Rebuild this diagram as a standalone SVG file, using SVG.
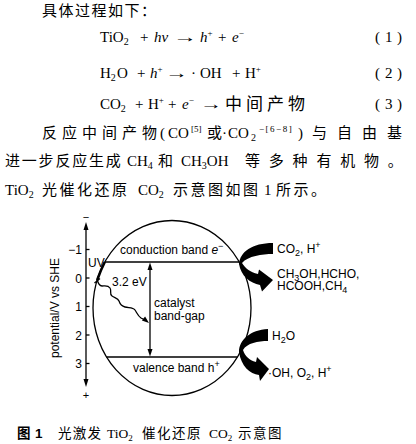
<svg xmlns="http://www.w3.org/2000/svg" width="416" height="444" viewBox="0 0 416 444">
<defs>
<style>
.cn{font-family:"Liberation Serif","Noto Sans CJK SC",serif;font-size:15px;fill:#000}
.eq{font-family:"Liberation Serif","Noto Sans CJK SC",serif;font-size:15px;fill:#000}
.lab{font-family:"Liberation Sans",Arial,sans-serif;font-size:12px;fill:#000}
.ln{stroke:#000;stroke-width:1.3;fill:none}
.fill{fill:#000;stroke:none}
.cap{font-family:"Liberation Serif","Noto Sans CJK SC",serif;font-size:13.5px;fill:#000}
</style>
</defs>
<rect width="416" height="444" fill="#fff"/>

<!-- body text -->
<g id="text-body">
<text class="cn" x="42" y="16" letter-spacing="1.5">具体过程如下：</text>

<text class="eq" y="42"><tspan x="100">TiO</tspan><tspan font-size="10" dy="3">2</tspan><tspan x="140" dy="-3">+</tspan><tspan x="154" font-style="italic">hν</tspan><tspan x="200" font-style="italic">h</tspan><tspan font-size="9" dy="-6">+</tspan><tspan x="218" dy="6">+</tspan><tspan x="232" font-style="italic">e</tspan><tspan font-size="9" dy="-6">−</tspan></text>
<text class="eq" x="173" y="42" textLength="24" lengthAdjust="spacingAndGlyphs">→</text>
<text class="eq" y="42"><tspan x="375">(</tspan><tspan x="385">1</tspan><tspan x="397">)</tspan></text>

<text class="eq" y="78"><tspan x="100">H</tspan><tspan font-size="10" dy="3">2</tspan><tspan x="117" dy="-3">O</tspan><tspan x="137">+</tspan><tspan x="150" font-style="italic">h</tspan><tspan font-size="9" dy="-6">+</tspan><tspan x="191" dy="6">·</tspan><tspan x="200">OH</tspan><tspan x="232">+</tspan><tspan x="245">H</tspan><tspan font-size="9" dy="-6">+</tspan></text>
<text class="eq" x="165" y="78" textLength="23" lengthAdjust="spacingAndGlyphs">→</text>
<text class="eq" y="78"><tspan x="375">(</tspan><tspan x="385">2</tspan><tspan x="397">)</tspan></text>

<text class="eq" y="109"><tspan x="100">CO</tspan><tspan font-size="10" dy="3">2</tspan><tspan x="135" dy="-3">+</tspan><tspan x="148">H</tspan><tspan font-size="9" dy="-6">+</tspan><tspan x="168" dy="6">+</tspan><tspan x="182" font-style="italic">e</tspan><tspan font-size="9" dy="-6">−</tspan></text>
<text class="eq" x="200" y="109" textLength="22" lengthAdjust="spacingAndGlyphs">→</text>
<text class="cn" x="225" y="110" style="font-size:17px" letter-spacing="4">中间产物</text>
<text class="eq" y="109"><tspan x="375">(</tspan><tspan x="385">3</tspan><tspan x="397">)</tspan></text>

<text class="cn" x="42" y="138" letter-spacing="5">反应中间产物</text>
<text class="cn" y="138"><tspan x="160">(</tspan><tspan x="168">CO</tspan></text>
<text class="cn" x="191" y="132" style="font-size:9px">[5]</text>
<text class="cn" x="207" y="138">或</text>
<text class="cn" y="138"><tspan x="222">·</tspan><tspan x="228">CO</tspan><tspan x="251" font-size="10" dy="3">2</tspan></text>
<text class="cn" x="259" y="132" style="font-size:9px" letter-spacing="1.5">−[6−8]</text>
<text class="cn" x="298" y="138">)</text>
<text class="cn" x="312" y="138" letter-spacing="10">与自由基</text>

<text class="cn" x="5" y="166" letter-spacing="1.8">进一步反应生成</text>
<text class="cn" y="166"><tspan x="127">CH</tspan><tspan font-size="10" dy="3">4</tspan></text>
<text class="cn" x="158" y="166">和</text>
<text class="cn" y="166"><tspan x="181">CH</tspan><tspan font-size="10" dy="3">3</tspan><tspan dy="-3">OH</tspan></text>
<text class="cn" x="245" y="166" letter-spacing="8.8">等多种有机物。</text>

<text class="cn" y="195"><tspan x="5">TiO</tspan><tspan font-size="10" dy="3">2</tspan></text>
<text class="cn" x="42" y="195" letter-spacing="2.5">光催化还原</text>
<text class="cn" y="195"><tspan x="138">CO</tspan><tspan font-size="10" dy="3">2</tspan></text>
<text class="cn" x="173" y="195" letter-spacing="2.5">示意图如图</text>
<text class="cn" x="264" y="195">1</text>
<text class="cn" x="276" y="195" letter-spacing="2.5">所示。</text>
</g>

<!-- axis -->
<g id="axis">
<line class="ln" x1="86" y1="228" x2="86" y2="381"/>
<polygon class="fill" points="86,222 83.5,230 88.5,230"/>
<polygon class="fill" points="86,387 83.5,379 88.5,379"/>
<g class="ln">
<line x1="86" y1="249.5" x2="89.5" y2="249.5"/>
<line x1="86" y1="278" x2="89.5" y2="278"/>
<line x1="86" y1="306.5" x2="89.5" y2="306.5"/>
<line x1="86" y1="335" x2="89.5" y2="335"/>
<line x1="86" y1="363.5" x2="89.5" y2="363.5"/>
</g>
<g class="lab" text-anchor="end">
<text x="82" y="254">−1</text>
<text x="82" y="282.5">0</text>
<text x="82" y="311">1</text>
<text x="82" y="339.5">2</text>
<text x="82" y="368">3</text>
</g>
<text class="lab" x="86" y="221" text-anchor="middle" style="font-size:11px">−</text>
<text class="lab" x="86" y="399" text-anchor="middle" style="font-size:11px">+</text>
<text class="lab" transform="translate(59,308) rotate(-90)" text-anchor="middle">potential/V vs SHE</text>
</g>

<!-- catalyst particle -->
<g id="particle">
<ellipse class="ln" cx="172" cy="308" rx="79" ry="87.5"/>
<path d="M104.8,262 Q100.5,270.5 97.2,280" stroke="#000" stroke-width="2.6" fill="none"/>
</g>

<g id="conduction-band">
<line class="ln" x1="104.8" y1="262" x2="239.2" y2="262"/>
<text class="lab" x="120" y="254">conduction band <tspan font-style="italic">e</tspan><tspan font-size="9" dy="-5">−</tspan></text>
</g>

<g id="valence-band">
<line class="ln" x1="106.5" y1="357" x2="237.5" y2="357"/>
<text class="lab" x="133" y="372">valence band h<tspan font-size="9" dy="-5">+</tspan></text>
</g>

<g id="labels">
<text class="lab" x="88" y="267">UV</text>
<text class="lab" x="112" y="286">3.2 eV</text>
<text class="lab" x="154" y="307">catalyst</text>
<text class="lab" x="154" y="320">band-gap</text>
<text class="lab" x="277" y="253">CO<tspan font-size="9" dy="3">2</tspan><tspan dy="-3">, H</tspan><tspan font-size="9" dy="-5">+</tspan></text>
<text class="lab" x="277" y="278">CH<tspan font-size="9" dy="3">3</tspan><tspan dy="-3">OH,HCHO,</tspan></text>
<text class="lab" x="277" y="290">HCOOH,CH<tspan font-size="9" dy="3">4</tspan></text>
<text class="lab" x="272" y="340">H<tspan font-size="9" dy="3">2</tspan><tspan dy="-3">O</tspan></text>
<text class="lab" x="268" y="377">·OH, O<tspan font-size="9" dy="3">2</tspan><tspan dy="-3">, H</tspan><tspan font-size="9" dy="-5">+</tspan></text>
</g>

<!-- connectors -->
<g id="connectors">
<line class="ln" x1="150" y1="268" x2="150" y2="351" stroke-width="1.1"/>
<polygon class="fill" points="150,262.5 147.5,270 152.5,270"/>
<polygon class="fill" points="150,356.5 147.5,349 152.5,349"/>
<path class="ln" stroke-width="1.2" d="M97,279 C98,283 99,286 102,286 C105,286 108,285 110,288 C112,291 109,294 112,296 C115,298 118,298 119,301 C120,304 121,306 125,307 C129,308 133,307 135,310 C137,313 138,316 141,318 L144,319.5"/>
<line class="ln" x1="94.5" y1="283" x2="100" y2="278.5" stroke-width="1.1"/>
<polygon class="fill" points="149,323 141.9,320.6 145.1,316.6"/>
<path class="fill" d="M273,243 L273,254 C262,254 248,256 242,263 C245,268 250,272 258,274 L259,269.5 L273,280 L262,291.5 L260,285 C250,283 241,276 239,264 C240,252 252,243 273,243 Z"/>
<path class="fill" d="M268,329 L268,341 C258,341 247,343 243,350 C245,356 249,360 256,362 L257,357 L269,369 L260,381 L259,375 C250,374 241,366 239,352 C239,340 250,330 268,329 Z"/>
</g>

<!-- caption -->
<g id="caption">
<text x="17" y="438" font-family="'Noto Sans CJK SC',sans-serif" font-weight="bold" font-size="13.5">图</text>
<text x="35" y="438" font-family="'Liberation Sans',sans-serif" font-weight="bold" font-size="13.5">1</text>
<text class="cap" x="58" y="438" letter-spacing="1.2">光激发</text>
<text class="cap" y="438"><tspan x="107">TiO</tspan><tspan font-size="9" dy="3">2</tspan></text>
<text class="cap" x="142" y="438" letter-spacing="1.5">催化还原</text>
<text class="cap" y="438"><tspan x="209">CO</tspan><tspan font-size="9" dy="3">2</tspan></text>
<text class="cap" x="238" y="438" letter-spacing="1.5">示意图</text>
</g>
</svg>
